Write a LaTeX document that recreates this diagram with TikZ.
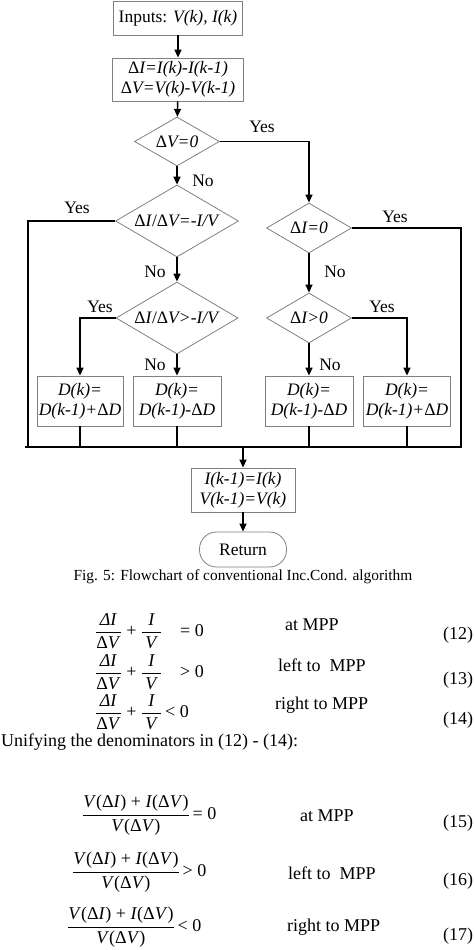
\documentclass[tikz,border=0pt]{standalone}
\usepackage{fontspec}
\setmainfont{Liberation Serif}
\usetikzlibrary{shapes.geometric,arrows.meta}
\newcommand\dlt{{\upshape Δ}}
\newcommand\fr[2]{$\displaystyle\frac{\mbox{#1}}{\mbox{#2}}$}
\tikzset{
  blk/.style={draw=gray, line width=.8pt, align=center, inner sep=0pt},
  dec/.style={diamond, draw=gray, line width=.8pt, inner sep=0pt},
  con/.style={line width=1.4pt},
  arr/.style={con, -{Triangle[length=8pt,width=7pt]}},
  eq/.style={anchor=west, inner sep=0pt}
}
\begin{document}
\begin{tikzpicture}[x=1pt,y=-1pt,font=\fontsize{17.5}{20}\selectfont]
\useasboundingbox (0,0) rectangle (474,950);
\node[blk, minimum width=129pt, minimum height=34pt] (inp) at (178,18) {Inputs: \textit{V(k), I(k)}};
\node[blk, minimum width=131pt, minimum height=43pt] (dif) at (178,79.5) {\dlt\textit{I=I(k)-I(k-1)}\\\dlt\textit{V=V(k)-V(k-1)}};
\node[dec, minimum width=85pt, minimum height=49pt] (d1) at (177,141.5) {};
\node (t1) at (d1) {\dlt\textit{V=0}};
\node[dec, minimum width=123pt, minimum height=72pt] (d2) at (177,221) {};
\node (t2) at (d2) {\dlt\textit{I}/\dlt\textit{V=-I/V}};
\node[dec, minimum width=122pt, minimum height=72pt] (d3) at (177,318) {};
\node (t3) at (d3) {\dlt\textit{I}/\dlt\textit{V>-I/V}};
\node[dec, minimum width=85pt, minimum height=50pt] (d4) at (309,228) {};
\node (t4) at (d4) {\dlt\textit{I=0}};
\node[dec, minimum width=85pt, minimum height=50pt] (d5) at (309,318) {};
\node (t5) at (d5) {\dlt\textit{I>0}};
\node[blk, minimum width=86pt, minimum height=50pt] (b1) at (80,401) {\textit{D(k)=}\\\textit{D(k-1)+}\dlt\textit{D}};
\node[blk, minimum width=88pt, minimum height=50pt] (b2) at (177,401) {\textit{D(k)=}\\\textit{D(k-1)-}\dlt\textit{D}};
\node[blk, minimum width=88pt, minimum height=50pt] (b3) at (309,401) {\textit{D(k)=}\\\textit{D(k-1)-}\dlt\textit{D}};
\node[blk, minimum width=87pt, minimum height=50pt] (b4) at (407,401) {\textit{D(k)=}\\\textit{D(k-1)+}\dlt\textit{D}};
\node[blk, minimum width=104pt, minimum height=44pt] (upd) at (243,490) {\textit{I(k-1)=I(k)}\\\textit{V(k-1)=V(k)}};
\node[blk, rounded corners=17pt, minimum width=87pt, minimum height=35pt] (ret) at (243,549.5) {Return};
\coordinate (bl) at (28,447);
\coordinate (br) at (461,447);
% labels
\node (y1) at (262,127) {Yes};
\node (n1) at (203,181) {No};
\node (y2) at (77,208) {Yes};
\node (n2) at (155,272) {No};
\node (y3) at (100,307) {Yes};
\node (n3) at (155,365) {No};
\node (y4) at (395,217) {Yes};
\node (n4) at (335,272) {No};
\node (y5) at (382,307) {Yes};
\node (n5) at (330,365) {No};
% connectors
\draw[arr] (inp) -- (dif);
\draw[arr] (dif) -- (d1);
\draw[arr] (d1) -- (d2);
\draw[arr] (d2) -- (d3);
\draw[arr] (d3) -- (b2);
\draw[arr] (d1.east) -| (d4.north);
\draw[arr] (d4) -- (d5);
\draw[arr] (d5) -- (b3);
\draw[arr] (d3.west) -| (b1.north);
\draw[arr] (d5.east) -| (b4.north);
\draw[con] (d2.west) -| (bl);
\draw[con] (d4.east) -| (br);
\draw[con] ([xshift=-3pt]bl) -- ([xshift=1pt]br);
\draw[con] (b1.south) -- (b1.south |- bl);
\draw[con] (b2.south) -- (b2.south |- bl);
\draw[con] (b3.south) -- (b3.south |- bl);
\draw[con] (b4.south) -- (b4.south |- bl);
\draw[arr] (upd.north |- bl) -- (upd.north);
\draw[arr] (upd) -- (ret);
\node[font=\fontsize{15.4}{18}\selectfont] (cap) at (243,577) {Fig. 5: Flowchart of conventional Inc.Cond. algorithm};
% equations
\begin{scope}[font=\fontsize{18}{21}\selectfont]
\node[eq] (e12) at (95,631) {\fr{\textit{ΔI}}{\dlt\textit{V}}\ +\ \fr{\,\textit{I}\,}{\,\textit{V}\,}\quad = 0};
\node[eq] (e13) at (95,672) {\fr{\textit{ΔI}}{\dlt\textit{V}}\ +\ \fr{\,\textit{I}\,}{\,\textit{V}\,}\quad > 0};
\node[eq] (e14) at (95,712) {\fr{\textit{ΔI}}{\dlt\textit{V}}\ +\ \fr{\,\textit{I}\,}{\,\textit{V}\,}\,< 0};
\node[eq] (m12) at (285,625) {at MPP};
\node[eq] (m13) at (278,665) {left to\ \ MPP};
\node[eq] (m14) at (275,705) {right to MPP};
\node[eq] (n12) at (443,635) {(12)};
\node[eq] (n13) at (443,680) {(13)};
\node[eq] (n14) at (443,720) {(14)};
\node[eq] (uni) at (1,742) {Unifying the denominators in (12) - (14):};
\node[eq] (e15) at (82,815) {\fr{\textit{V}(\dlt\textit{I}) + \textit{I}(\dlt\textit{V})}{\textit{V}(\dlt\textit{V})}\,= 0};
\node[eq] (e16) at (72,872) {\fr{\textit{V}(\dlt\textit{I}) + \textit{I}(\dlt\textit{V})}{\textit{V}(\dlt\textit{V})}\,> 0};
\node[eq] (e17) at (67,927) {\fr{\textit{V}(\dlt\textit{I}) + \textit{I}(\dlt\textit{V})}{\textit{V}(\dlt\textit{V})}\,< 0};
\node[eq] (m15) at (300,816) {at MPP};
\node[eq] (m16) at (288,873) {left to\ \ MPP};
\node[eq] (m17) at (287,927) {right to MPP};
\node[eq] (n15) at (443,823) {(15)};
\node[eq] (n16) at (443,881) {(16)};
\node[eq] (n17) at (443,936) {(17)};
\end{scope}
\end{tikzpicture}
\end{document}
